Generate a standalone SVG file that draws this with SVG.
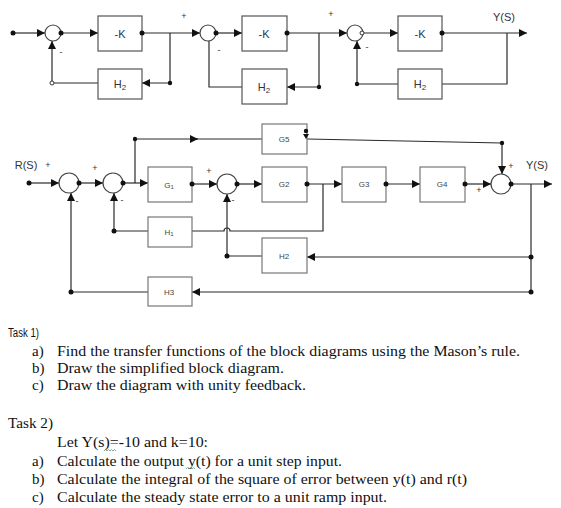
<svg xmlns="http://www.w3.org/2000/svg" width="561" height="508" viewBox="0 0 561 508">
<style>
.ln{fill:none;stroke:#2a2a2a;stroke-width:1.2}
.bx{fill:#fff;stroke:#555;stroke-width:1.2}
.bx2{fill:#fff;stroke:#777;stroke-width:1.2}
.sm{fill:#fff;stroke:#444;stroke-width:1.2}
.dot{fill:#111}
.lb{font-family:"Liberation Sans",Arial,sans-serif;font-size:11px;fill:#333;text-anchor:middle}
.lb2{font-family:"Liberation Sans",Arial,sans-serif;font-size:8px;fill:#444;text-anchor:middle}
.sg{font-family:"Liberation Sans",Arial,sans-serif;font-size:9px;fill:#333;text-anchor:middle}
.tx{font-family:"Liberation Serif","Times New Roman",serif;font-size:15px;fill:#111}
.ts{font-family:"Liberation Sans",Arial,sans-serif;font-size:12px;fill:#111}
.wv{fill:none;stroke:#5a9a7a;stroke-width:0.8}
</style>
<defs>
<marker id="ar" markerUnits="userSpaceOnUse" markerWidth="9" markerHeight="8" refX="8" refY="4" orient="auto">
<path d="M0,0 L8,4 L0,8 z" fill="#111"/>
</marker>
</defs>

<!-- connectors -->
<g id="connectors">
<!-- top loop 1 -->
<path class="ln" d="M13,33 H45" marker-end="url(#ar)"/>
<path class="ln" d="M61,33 H98" marker-end="url(#ar)"/>
<path class="ln" d="M142,33 H200" marker-end="url(#ar)"/>
<path class="ln" d="M170,33 V83 H142" marker-end="url(#ar)"/>
<path class="ln" d="M98,83 H54"/>
<path class="ln" d="M52,81 V41" marker-end="url(#ar)"/>
<!-- top loop 2 -->
<path class="ln" d="M216,33 H242" marker-end="url(#ar)"/>
<path class="ln" d="M287,33 H347" marker-end="url(#ar)"/>
<path class="ln" d="M319,33 V87 H287" marker-end="url(#ar)"/>
<path class="ln" d="M242,87 H209 V41"/>
<!-- top loop 3 -->
<path class="ln" d="M364,33 H398" marker-end="url(#ar)"/>
<path class="ln" d="M442,33 H527" marker-end="url(#ar)"/>
<path class="ln" d="M507,33 V84 H442"/>
<path class="ln" d="M398,84 H357"/>
<path class="ln" d="M357,84 V41" marker-end="url(#ar)"/>
<!-- middle -->
<path class="ln" d="M29,183 H59" marker-end="url(#ar)"/>
<path class="ln" d="M79,183 H103" marker-end="url(#ar)"/>
<path class="ln" d="M123,183 H148" marker-end="url(#ar)"/>
<path class="ln" d="M135,183 V139 H198" marker-end="url(#ar)"/>
<path class="ln" d="M196,139 H262"/>
<path class="ln" d="M192,184 H217" marker-end="url(#ar)"/>
<path class="ln" d="M237,184 H262" marker-end="url(#ar)"/>
<path class="ln" d="M307,184 H342" marker-end="url(#ar)"/>
<path class="ln" d="M323,184 V231 H230 A3,3 0 0 0 224,231 H192"/>
<path class="ln" d="M148,231 H114"/>
<path class="ln" d="M114,231 V193" marker-end="url(#ar)"/>
<path class="ln" d="M227,256 V194" marker-end="url(#ar)"/>
<path class="ln" d="M227,256 H262"/>
<path class="ln" d="M531,257 H307" marker-end="url(#ar)"/>
<path class="ln" d="M531,292 H192" marker-end="url(#ar)"/>
<path class="ln" d="M148,292 H71"/>
<path class="ln" d="M71,292 V193" marker-end="url(#ar)"/>
<path class="ln" d="M307,139 L502,143"/>
<path class="ln" d="M502,143 V174" marker-end="url(#ar)"/>
<path class="ln" d="M386,184 H420" marker-end="url(#ar)"/>
<path class="ln" d="M465,184 H491" marker-end="url(#ar)"/>
<path class="ln" d="M511,184 H552" marker-end="url(#ar)"/>
<path class="ln" d="M531,184 V292"/>
</g>

<!-- top diagram nodes -->
<g id="t-sum1"><circle class="sm" cx="53" cy="33" r="8"/></g>
<g id="t-K1"><rect class="bx" x="98" y="16" width="44" height="35"/><text class="lb" x="120" y="38">-K</text></g>
<g id="t-H1"><rect class="bx" x="98" y="69" width="44" height="30"/><text class="lb" x="120" y="88">H<tspan font-size="8" dy="2">2</tspan></text></g>
<g id="t-sum2"><circle class="sm" cx="208" cy="33" r="8"/></g>
<g id="t-K2"><rect class="bx" x="242" y="16" width="45" height="35"/><text class="lb" x="264" y="38">-K</text></g>
<g id="t-H2"><rect class="bx" x="242" y="69" width="45" height="35"/><text class="lb" x="264" y="91">H<tspan font-size="8" dy="2">2</tspan></text></g>
<g id="t-sum3"><circle class="sm" cx="355" cy="33" r="8"/><circle cx="362" cy="33" r="2" fill="#fff" stroke="#333" stroke-width="1"/></g>
<g id="t-K3"><rect class="bx" x="398" y="16" width="44" height="35"/><text class="lb" x="420" y="38">-K</text></g>
<g id="t-H3"><rect class="bx" x="398" y="69" width="44" height="30"/><text class="lb" x="420" y="88">H<tspan font-size="8" dy="2">2</tspan></text></g>

<g id="t-dots">
<circle class="dot" cx="13" cy="33" r="2.5"/>
<circle class="dot" cx="61" cy="33" r="2.5"/>
<circle class="dot" cx="142" cy="33" r="2.5"/>
<circle class="dot" cx="170" cy="83" r="2.2"/>
<circle cx="52" cy="83" r="2" fill="#fff" stroke="#333" stroke-width="1"/>
<circle class="dot" cx="216" cy="33" r="2.5"/>
<circle class="dot" cx="287" cy="33" r="2.5"/>
<circle class="dot" cx="319" cy="87" r="2.2"/>
<circle class="dot" cx="442" cy="33" r="2.5"/>
<circle class="dot" cx="357" cy="84" r="2.2"/>
</g>
<g id="t-labels">
<text class="sg" x="184" y="19">+</text>
<text class="sg" x="331" y="17">+</text>
<text class="sg" x="61" y="55">-</text>
<text class="sg" x="219" y="53">-</text>
<text class="sg" x="367" y="50">-</text>
<text class="lb" x="504" y="21" font-size="10">Y(S)</text>
</g>

<!-- middle diagram nodes -->
<g id="m-sum1"><circle class="sm" cx="69" cy="183" r="10"/></g>
<g id="m-sum2"><circle class="sm" cx="113" cy="183" r="10"/></g>
<g id="m-G1"><rect class="bx2" x="148" y="167" width="44" height="35"/><text class="lb2" x="169" y="188">G<tspan font-size="6" dy="1">1</tspan></text></g>
<g id="m-H1"><rect class="bx2" x="148" y="217" width="44" height="30"/><text class="lb2" x="169" y="235">H<tspan font-size="6" dy="1">1</tspan></text></g>
<g id="m-H3"><rect class="bx2" x="148" y="277" width="44" height="29"/><text class="lb2" x="169" y="295">H3</text></g>
<g id="m-sum3"><circle class="sm" cx="227" cy="184" r="10"/></g>
<g id="m-G5"><rect class="bx2" x="262" y="124" width="45" height="30"/><text class="lb2" x="284" y="142">G5</text><circle class="dot" cx="306" cy="131" r="2.2"/><path d="M303,134 L309,134 L306,139 z" fill="#111"/></g>
<g id="m-G2"><rect class="bx2" x="262" y="167" width="45" height="35"/><text class="lb2" x="284" y="187">G2</text></g>
<g id="m-H2"><rect class="bx2" x="262" y="238" width="45" height="35"/><text class="lb2" x="284" y="259">H2</text></g>
<g id="m-G3"><rect class="bx2" x="342" y="167" width="44" height="35"/><text class="lb2" x="364" y="187">G3</text></g>
<g id="m-G4"><rect class="bx2" x="420" y="167" width="45" height="35"/><text class="lb2" x="442" y="187">G4</text></g>
<g id="m-sum4"><circle class="sm" cx="501" cy="184" r="10"/></g>

<g id="m-dots">
<circle class="dot" cx="29" cy="183" r="2.5"/>
<circle class="dot" cx="79" cy="183" r="2.5"/>
<circle class="dot" cx="123" cy="183" r="2.5"/>
<circle class="dot" cx="135" cy="139" r="2.2"/>
<circle class="dot" cx="192" cy="184" r="2.5"/>
<circle class="dot" cx="237" cy="184" r="2.5"/>
<circle class="dot" cx="307" cy="184" r="2.5"/>
<circle class="dot" cx="114" cy="231" r="2.5"/>
<circle class="dot" cx="227" cy="256" r="2.5"/>
<circle class="dot" cx="71" cy="292" r="2.5"/>
<circle class="dot" cx="386" cy="184" r="2.5"/>
<circle class="dot" cx="465" cy="184" r="2.5"/>
<circle class="dot" cx="511" cy="184" r="2.5"/>
<circle class="dot" cx="502" cy="143" r="2.2"/>
<circle class="dot" cx="531" cy="257" r="2.5"/>
<circle class="dot" cx="531" cy="292" r="2.5"/>
</g>
<g id="m-labels">
<text class="lb" x="26" y="169" font-size="10.5">R(S)</text>
<text class="sg" x="48" y="168">+</text>
<text class="sg" x="95" y="171">+</text>
<text class="sg" x="77" y="204">-</text>
<text class="sg" x="122" y="203">-</text>
<text class="sg" x="209" y="174">+</text>
<text class="sg" x="233" y="203">-</text>
<text class="sg" x="479" y="193">+</text>
<text class="sg" x="511" y="169">+</text>
<text class="lb" x="537" y="169" font-size="10.5">Y(S)</text>
</g>

<!-- task text -->
<g id="tasks">
<text class="ts" x="8" y="337" textLength="31" lengthAdjust="spacingAndGlyphs">Task 1)</text>
<text class="tx" x="32" y="356">a)</text>
<text class="tx" x="57" y="356" textLength="463" lengthAdjust="spacingAndGlyphs">Find the transfer functions of the block diagrams using the Mason’s rule.</text>
<text class="tx" x="32" y="373">b)</text>
<text class="tx" x="57" y="373" textLength="227" lengthAdjust="spacingAndGlyphs">Draw the simplified block diagram.</text>
<text class="tx" x="32" y="390">c)</text>
<text class="tx" x="57" y="390" textLength="249" lengthAdjust="spacingAndGlyphs">Draw the diagram with unity feedback.</text>
<text class="tx" x="8" y="428" textLength="45" lengthAdjust="spacingAndGlyphs">Task 2)</text>
<text class="tx" x="57" y="447" textLength="151" lengthAdjust="spacingAndGlyphs">Let Y(s)=-10 and k=10:</text>
<text class="tx" x="32" y="466">a)</text>
<text class="tx" x="57" y="466" textLength="285" lengthAdjust="spacingAndGlyphs">Calculate the output y(t) for a unit step input.</text>
<text class="tx" x="32" y="484">b)</text>
<text class="tx" x="57" y="484" textLength="410" lengthAdjust="spacingAndGlyphs">Calculate the integral of the square of error between y(t) and r(t)</text>
<text class="tx" x="32" y="502">c)</text>
<text class="tx" x="57" y="502" textLength="330" lengthAdjust="spacingAndGlyphs">Calculate the steady state error to a unit ramp input.</text>
<path class="wv" d="M104,451 l1.5,-1.5 l1.5,1.5 l1.5,-1.5 l1.5,1.5 l1.5,-1.5 l1.5,1.5 l1.5,-1.5 l1.5,1.5"/>
<path class="wv" d="M186,469 l1.5,-1.5 l1.5,1.5 l1.5,-1.5 l1.5,1.5 l1.5,-1.5 l1.5,1.5"/>
</g>
</svg>
